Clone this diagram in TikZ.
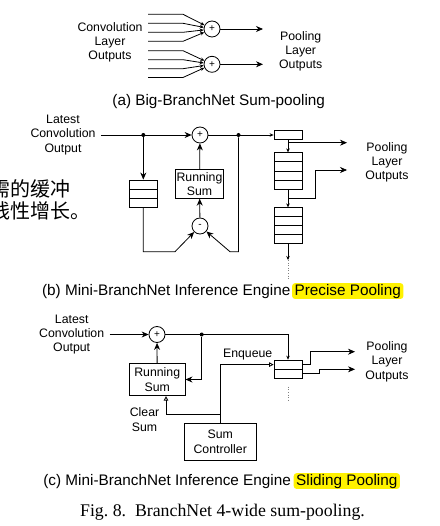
\documentclass[tikz,border=0pt]{standalone}
\usepackage{fontspec}
\setmainfont{Liberation Serif}
\setsansfont{Liberation Sans}
\newfontfamily\cjkfont{Noto Sans CJK SC}
\usepackage[usenames]{xcolor}
\usetikzlibrary{arrows.meta}

\tikzset{
  lbl/.style={font=\sffamily\fontsize{12.3}{14.3}\selectfont,align=center,inner sep=0pt},
  captext/.style={font=\sffamily\fontsize{15.3}{17}\selectfont,inner sep=0pt},
  opnode/.style={draw,shape=circle,minimum size=16pt,inner sep=0pt,font=\sffamily\fontsize{10}{10}\selectfont},
  sumbox/.style={draw,lbl},
  cell/.style={draw,minimum width=28pt,minimum height=9.1pt,inner sep=0pt},
  dot/.style={circle,fill,inner sep=0pt,minimum size=4pt},
  big/.style={-{Stealth[length=7pt,width=6pt]}},
  small/.style={-{Stealth[length=4pt,width=3.5pt]}},
  hollow/.style={-{Triangle[open,length=4.5pt,width=4.5pt]}},
}

\begin{document}
\begin{tikzpicture}[x=1pt,y=-1pt,line width=0.8pt]
\useasboundingbox (0,0) rectangle (439,526);
\clip (0,0) rectangle (439,526);

    % (a) sum-pooling
    \node[lbl] (convlbl) at (110,42.3) {Convolution\\Layer\\Outputs};
    \node[lbl] (poola)   at (300.7,51.3) {Pooling\\Layer\\Outputs};

    \node[opnode] (pa1) at (212,29) {+};
    \node[opnode] (pa2) at (212,64.3) {+};

    \coordinate (ia1) at (148,14.3); \coordinate (ka1) at (183,14.3);
    \coordinate (ia2) at (148,23.3); \coordinate (ka2) at (183,23.3);
    \coordinate (ia3) at (148,32.3); \coordinate (ka3) at (183,32.3);
    \coordinate (ia4) at (148,41.3); \coordinate (ka4) at (183,41.3);

    \draw[small] (ia1) -- (ka1) -- (pa1);
    \draw[small] (ia2) -- (ka2) -- (pa1);
    \draw[small] (ia3) -- (ka3) -- (pa1);
    \draw[small] (ia4) -- (ka4) -- (pa1);

    \coordinate (ib1) at (148,50.7); \coordinate (kb1) at (183,50.7);
    \coordinate (ib2) at (148,59.7); \coordinate (kb2) at (183,59.7);
    \coordinate (ib3) at (148,68.7); \coordinate (kb3) at (183,68.7);
    \coordinate (ib4) at (148,77.5); \coordinate (kb4) at (183,77.5);

    \draw[small] (ib1) -- (kb1) -- (pa2);
    \draw[small] (ib2) -- (kb2) -- (pa2);
    \draw[small] (ib3) -- (kb3) -- (pa2);
    \draw[small] (ib4) -- (kb4) -- (pa2);

    \coordinate (oa1) at (263,29);
    \coordinate (oa2) at (263,64.3);
    \draw[big] (pa1) -- (oa1);
    \draw[big] (pa2) -- (oa2);

    \node[captext,anchor=base] (capa) at (218.7,105.5) {(a) Big-BranchNet Sum-pooling};


    % (b) precise pooling
    \node[lbl,inner xsep=5pt] (convb) at (63,135) {Latest\\Convolution\\Output};
    \node[opnode] (pb) at (200,135) {+};
    \node[opnode] (mb) at (200,226) {-};
    \node[sumbox,minimum width=48pt,minimum height=29pt] (rsb) at (199.5,183.8) {Running\\Sum};

    \node[cell] (qa1) at (143.3,184.5) {};
    \node[cell] (qa2) at (143.3,193.6) {};
    \node[cell] (qa3) at (143.3,202.7) {};

    \node[dot] (db1) at (143.3,135) {};
    \node[dot] (db2) at (238.5,135) {};

    \draw[big] (convb) -- (pb);
    \draw[big] (db1) -- (qa1);
    \coordinate (ba) at (143.3,251.7);
    \coordinate (bb) at (175,251.7);
    \draw[big] (qa3) -- (ba) -- (bb) -- (mb);
    \coordinate (bc) at (238.5,251.7);
    \coordinate (bd) at (230,251.7);
    \draw[big] (db2) -- (bc) -- (bd) -- (mb);
    \draw[big] (mb) -- (rsb);
    \draw[big] (rsb) -- (pb);

    \node[cell,minimum height=8.4pt] (reg) at (288,135) {};
    \draw[small] (pb) -- (reg);

    \node[cell] (qb1) at (288,157.3) {};
    \node[cell] (qb2) at (288,166.4) {};
    \node[cell] (qb3) at (288,175.5) {};
    \node[cell] (qb4) at (288,184.6) {};

    \node[cell,minimum height=8.9pt] (qc1) at (288,212.2) {};
    \node[cell,minimum height=8.9pt] (qc2) at (288,221.1) {};
    \node[cell,minimum height=8.9pt] (qc3) at (288,230) {};
    \node[cell,minimum height=8.9pt] (qc4) at (288,238.9) {};

    \draw[small,line width=0.6pt] (reg) -- (qb1);
    \draw[small,line width=0.6pt] (qb4) -- (qc1);

    \coordinate (br1) at (288,142.7);
    \coordinate (ob1) at (347,142.7);
    \draw[big,line width=0.6pt] (br1) -- (ob1);

    \coordinate (br2) at (288,198.3);
    \coordinate (br3) at (315,198.3);
    \coordinate (br4) at (315,170);
    \coordinate (ob2) at (347,170);
    \draw[big,line width=0.6pt] (br2) -- (br3) -- (br4) -- (ob2);

    \coordinate (qend) at (288,260);
    \coordinate (qdot) at (288,280);
    \draw[small,line width=0.6pt] (qc4) -- (qend);
    \draw[dotted,gray,line width=0.6pt] (qend) -- (qdot);

    \node[lbl] (poolb) at (387,162.5) {Pooling\\Layer\\Outputs};

    \node[captext,anchor=base west] (capb) at (41.7,295) {(b) Mini-BranchNet Inference Engine};
    \node[captext,anchor=base west,fill=yellow,rounded corners=3pt,inner xsep=2.5pt,inner ysep=0.8pt] (hlb) at (291.7,295) {Precise Pooling\hspace{6pt}};

    \node[anchor=west,font=\cjkfont\fontsize{20}{22}\selectfont,align=left,inner sep=0pt] (cnote) at (-10,200) {需的缓冲\\线性增长。};


    % (c) sliding pooling
    \node[lbl,inner xsep=5pt] (convc) at (71.7,334.5) {Latest\\Convolution\\Output};
    \node[opnode] (pc) at (157,334.5) {+};
    \node[sumbox,minimum width=55.7pt,minimum height=32.4pt] (rsc) at (157.2,379.5) {Running\\Sum};
    \node[sumbox,minimum width=71.7pt,minimum height=36.7pt] (sc) at (220.2,441.7) {Sum\\Controller};

    \node[cell] (rc1) at (288,364.6) {};
    \node[cell] (rc2) at (288,373.7) {};

    \node[dot] (dc1) at (201.7,334.5) {};

    \draw[big] (convc) -- (pc);
    \coordinate (tc) at (288,334.5);
    \draw[small] (pc) -- (tc) -- (rc1);
    \coordinate (fc) at (201.7,379.5);
    \draw[big] (dc1) -- (fc) -- (rsc);
    \draw[big] (rsc) -- (pc);

    \coordinate (ec) at (220.2,364.6);
    \draw[hollow] (sc) -- (ec) -- (rc1);
    \coordinate (jc) at (220.2,414.3);
    \coordinate (clr) at (166,414.3);
    \draw[hollow] (jc) -- (clr) -- (rsc.south -| clr);

    \node[lbl] (enq) at (247.7,354.3) {Enqueue};
    \node[lbl] (clrlbl) at (144.5,419.5) {Clear\\Sum};

    \coordinate (oc1a) at (310,364.6);
    \coordinate (oc1b) at (310,351.7);
    \coordinate (oc1) at (355,351.7);
    \draw[big,line width=0.6pt] (rc1.east) -- (oc1a) -- (oc1b) -- (oc1);
    \coordinate (oc2a) at (319.3,373.7);
    \coordinate (oc2b) at (319.3,369.3);
    \coordinate (oc2) at (355,369.3);
    \draw[big,line width=0.6pt] (rc2.east) -- (oc2a) -- (oc2b) -- (oc2);

    \coordinate (rdot1) at (288,386.7);
    \coordinate (rdot2) at (288,400.7);
    \draw[dotted,gray,line width=0.6pt] (rdot1) -- (rdot2);

    \node[lbl] (poolc) at (387,361.7) {Pooling\\Layer\\Outputs};

    \node[captext,anchor=base west] (capc) at (43,485) {(c) Mini-BranchNet Inference Engine};
    \node[captext,anchor=base west,fill=yellow,rounded corners=3pt,inner xsep=2.5pt,inner ysep=0.8pt] (hlc) at (293.3,485) {Sliding Pooling\hspace{6pt}};

    \node[font=\rmfamily\fontsize{17.8}{20}\selectfont,anchor=base,inner sep=0pt] (figcap) at (222.5,516) {Fig.~8.\enspace BranchNet 4-wide sum-pooling.};

\end{tikzpicture}
\end{document}
